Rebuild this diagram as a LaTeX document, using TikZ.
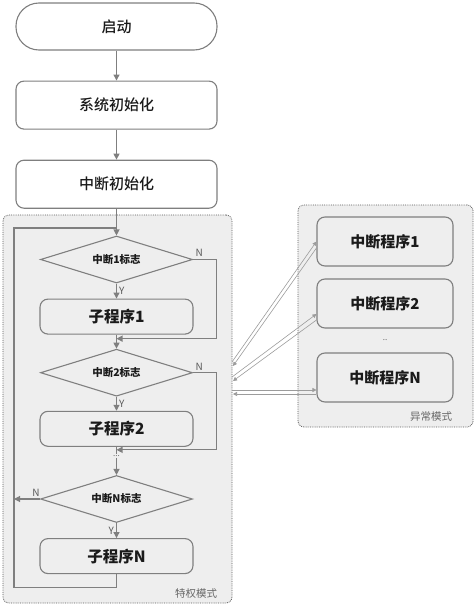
\documentclass[tikz,border=0pt]{standalone}
\usepackage{fontspec}
\setmainfont{Noto Sans CJK SC}
\newfontfamily\cjkmedium{Noto Sans CJK SC Medium}
\usetikzlibrary{positioning,shapes.geometric,arrows.meta}

\definecolor{linegray}{HTML}{7F7F7F}
\definecolor{callgray}{HTML}{9C9C9C}
\definecolor{modefill}{HTML}{EEEEEE}
\definecolor{textdark}{HTML}{1A1A1A}

\begin{document}
\begin{tikzpicture}[
    x=1pt,y=-1pt,
    procnode/.style={
      draw=linegray,line width=1.1pt,fill=white,rounded corners=8pt,
      minimum width=201pt,minimum height=48pt,inner sep=0pt,
      text=textdark,font=\fontsize{15}{18}\selectfont\cjkmedium
    },
    startnode/.style={
      procnode,
      rounded corners=23pt,minimum height=47pt
    },
    subnode/.style={
      procnode,fill=none,
      minimum width=153pt,minimum height=35pt,
      font=\fontsize{15.5}{18}\selectfont\bfseries
    },
    decnode/.style={
      diamond,aspect=3.2,draw=linegray,line width=1.1pt,inner sep=0pt,
      minimum width=152pt,minimum height=47pt,
      text=textdark,font=\fontsize{10.5}{12}\selectfont\bfseries
    },
    isrnode/.style={
      procnode,fill=none,
      minimum width=136pt,minimum height=49pt,
      font=\fontsize{15}{18}\selectfont\bfseries
    },
    modebox/.style={
      draw=black!65,densely dotted,line width=0.8pt,fill=modefill,
      rounded corners=6pt,inner sep=0pt
    },
    modelabel/.style={
      text=black!60,inner sep=0pt,font=\fontsize{10.5}{12}\selectfont
    },
    flowlabel/.style={
      text=black!65,inner sep=2pt,font=\fontsize{10}{12}\selectfont
    },
    flowline/.style={
      draw=linegray,line width=1.1pt
    },
    flowarrow/.style={
      flowline,-{Triangle[width=6pt,length=6pt]}
    },
    callarrow/.style={
      draw=callgray,line width=0.6pt,-{Triangle[width=4pt,length=4pt]}
    }]
      \useasboundingbox (0,0) rectangle (474,605);

      % the two mode areas
      \node[modebox,minimum width=229pt,minimum height=388pt] (priv) at (117.5,409) {};
      \node[modebox,minimum width=175pt,minimum height=222pt] (excp) at (385.5,316) {};
      \node[modelabel,anchor=south east] (privlabel) at ([xshift=-15pt,yshift=5pt]priv.south east) {特权模式};
      \node[modelabel,anchor=south east] (excplabel) at ([xshift=-21pt,yshift=6pt]excp.south east) {异常模式};

      % main flow
      \node[startnode] (start) at (116.5,26.5) {启动};
      \node[procnode,below=30pt of start] (sysinit) {系统初始化};
      \node[procnode,below=30pt of sysinit] (intinit) {中断初始化};

      \node[decnode] (dec1) at (116.5,259.5) {中断1标志};
      \node[subnode,below=15pt of dec1] (sub1) {子程序1};
      \node[decnode,below=14pt of sub1] (dec2) {中断2标志};
      \node[subnode,below=14pt of dec2] (sub2) {子程序2};
      \node[inner sep=1pt,text=black!60,font=\fontsize{8}{8}\selectfont] (dots) at (116.5,456) {...};
      \node[decnode] (decN) at (116.5,499) {中断N标志};
      \node[subnode,below=15pt of decN] (subN) {子程序N};

      \coordinate (loopcorner) at (14,228);
      \coordinate (looptop) at (intinit |- loopcorner);

      \draw[flowarrow] (start) -- (sysinit);
      \draw[flowarrow] (sysinit) -- (intinit);
      \draw[flowarrow] (intinit) -- (dec1);
      \draw[flowarrow] (dec1) -- node[flowlabel,right] {Y} (sub1);
      \draw[flowarrow] (sub1) -- (dec2);
      \draw[flowarrow] (dec2) -- node[flowlabel,right] {Y} (sub2);
      \draw[flowline] (sub2) -- (dots);
      \draw[flowarrow] (dots) -- (decN);
      \draw[flowarrow] (decN) -- node[flowlabel,left] {Y} (subN);

      \draw[flowarrow] (dec1.east) node[flowlabel,anchor=south west] {N} -- ++(23,0) |- ([yshift=-4pt]sub1.south);
      \draw[flowarrow] (dec2.east) node[flowlabel,anchor=south west] {N} -- ++(23,0) |- ([yshift=-3pt]sub2.south);
      \draw[flowarrow] (decN.west) -- node[flowlabel,above,pos=0.15] {N} (loopcorner |- decN);
      \draw[flowline] (subN.south) -- ++(0,13) -| (loopcorner) -- (looptop);

      % interrupt routines
      \node[isrnode] (isr1) at (385,241.5) {中断程序1};
      \node[isrnode] (isr2) at (385,303.5) {中断程序2};
      \node[inner sep=1pt,text=black!60,font=\fontsize{8}{8}\selectfont] (isrdots) at (385,340) {..};
      \node[isrnode] (isrN) at (385,377.5) {中断程序N};

      \coordinate (call1) at (232,362);
      \coordinate (ret1) at (233,366);
      \coordinate (call2) at (232,377);
      \coordinate (ret2) at (233,381);
      \coordinate (call3) at (232,390);
      \coordinate (ret3) at (233,394);

      \draw[callarrow] (call1) -- (isr1.west);
      \draw[callarrow] ([yshift=-6.5pt]isr1.west) -- (ret1);
      \draw[callarrow] (call2) -- ([yshift=-10.5pt]isr2.west);
      \draw[callarrow] ([yshift=-16.5pt]isr2.west) -- (ret2);
      \draw[callarrow] (call3) -- ([yshift=-12.5pt]isrN.west);
      \draw[callarrow] ([yshift=-16.5pt]isrN.west) -- (ret3);
  \end{tikzpicture}
\end{document}
